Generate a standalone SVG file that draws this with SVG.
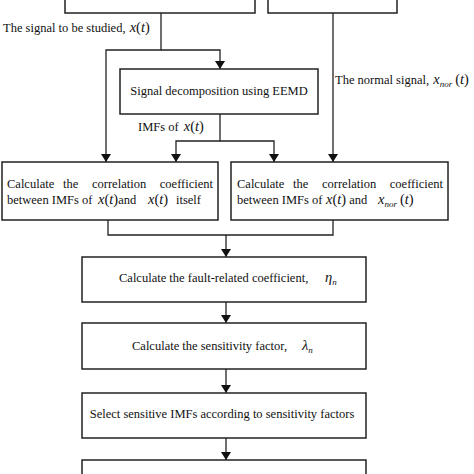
<svg xmlns="http://www.w3.org/2000/svg" width="474" height="474" viewBox="0 0 474 474">
<style>
.b{fill:#fff;stroke:#222;stroke-width:1.5}
.c{fill:none;stroke:#222;stroke-width:1.3}
text{font-family:"Liberation Serif","Times New Roman",serif;font-size:12.5px;fill:#111}
.m{font-style:italic;font-size:14.5px}
.p{font-size:14.5px}
.s{font-style:italic;font-size:9px}
</style>
<defs>
<marker id="a" viewBox="0 0 8 10" refX="8" refY="5" markerWidth="8" markerHeight="10" markerUnits="userSpaceOnUse" orient="auto">
<path d="M0,0L8,5L0,10z" fill="#111"/>
</marker>
</defs>
<rect width="474" height="474" fill="#fff"/>
<g id="connectors">
<path class="c" d="M161,13V50H106V162" marker-end="url(#a)"/>
<path class="c" d="M161,50H220V69" marker-end="url(#a)"/>
<path class="c" d="M220,114V141H176V162" marker-end="url(#a)"/>
<path class="c" d="M220,141H274V162" marker-end="url(#a)"/>
<path class="c" d="M333,13V162" marker-end="url(#a)"/>
<path class="c" d="M108,220V235H333V220"/>
<path class="c" d="M226,235V257" marker-end="url(#a)"/>
<path class="c" d="M226,302V323" marker-end="url(#a)"/>
<path class="c" d="M226,369V393" marker-end="url(#a)"/>
<path class="c" d="M226,438V460" marker-end="url(#a)"/>
<text x="3" y="32">The signal to be studied, <tspan class="m" dx="1">x</tspan><tspan class="p">(</tspan><tspan class="m">t</tspan><tspan class="p">)</tspan></text>
<text x="335" y="84">The normal signal, <tspan class="m" dx="1">x</tspan><tspan class="s" dy="3">nor</tspan><tspan class="p" dy="-3" dx="3">(</tspan><tspan class="m">t</tspan><tspan class="p">)</tspan></text>
<text x="138" y="131">IMFs of <tspan class="m" dx="2">x</tspan><tspan class="p">(</tspan><tspan class="m">t</tspan><tspan class="p">)</tspan></text>
</g>
<g id="source">
<rect class="b" x="65" y="-20" width="190" height="33"/>
</g>
<g id="normal">
<rect class="b" x="268" y="-20" width="129" height="33"/>
</g>
<g id="eemd">
<rect class="b" x="120" y="69" width="198" height="45"/>
<text x="219" y="95" text-anchor="middle">Signal decomposition using EEMD</text>
</g>
<g id="corr1">
<rect class="b" x="2" y="162" width="216" height="58"/>
<text x="7" y="188">Calculate</text>
<text x="63" y="188">the</text>
<text x="92" y="188">correlation</text>
<text x="213" y="188" text-anchor="end">coefficient</text>
<text y="204"><tspan x="7">between IMFs of</tspan><tspan class="m" x="98">x</tspan><tspan class="p">(</tspan><tspan class="m">t</tspan><tspan class="p">)</tspan><tspan>and</tspan><tspan class="m" x="148">x</tspan><tspan class="p">(</tspan><tspan class="m">t</tspan><tspan class="p">)</tspan><tspan x="176">itself</tspan></text>
</g>
<g id="corr2">
<rect class="b" x="231" y="162" width="217" height="58"/>
<text x="237" y="188">Calculate</text>
<text x="293" y="188">the</text>
<text x="322" y="188">correlation</text>
<text x="443" y="188" text-anchor="end">coefficient</text>
<text y="204"><tspan x="237">between IMFs of</tspan><tspan class="m" x="326">x</tspan><tspan class="p">(</tspan><tspan class="m">t</tspan><tspan class="p">)</tspan><tspan> and</tspan><tspan class="m" x="378">x</tspan><tspan class="s" dy="3">nor</tspan><tspan class="p" dy="-3" dx="3">(</tspan><tspan class="m">t</tspan><tspan class="p">)</tspan></text>
</g>
<g id="fault">
<rect class="b" x="82" y="257" width="284" height="45"/>
<text x="119" y="282">Calculate the fault-related coefficient,<tspan class="m" x="325">η</tspan><tspan class="s" dy="3">n</tspan></text>
</g>
<g id="sensitivity">
<rect class="b" x="82" y="323" width="284" height="46"/>
<text x="132" y="350">Calculate the sensitivity factor,<tspan class="m" x="302">λ</tspan><tspan class="s" dy="3">n</tspan></text>
</g>
<g id="select">
<rect class="b" x="82" y="393" width="284" height="45"/>
<text x="222" y="418" text-anchor="middle">Select sensitive IMFs according to sensitivity factors</text>
</g>
<g id="final">
<rect class="b" x="82" y="460" width="284" height="30"/>
</g>
</svg>
